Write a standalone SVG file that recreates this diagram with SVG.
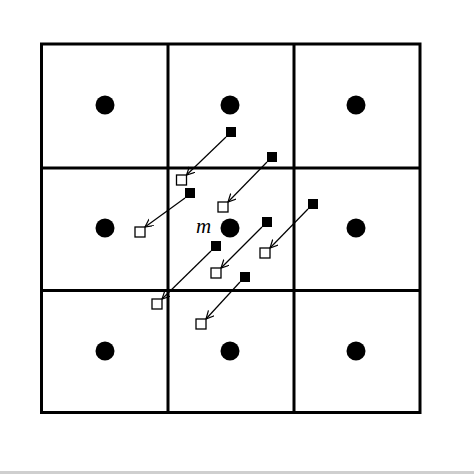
<svg xmlns="http://www.w3.org/2000/svg" width="474" height="474" viewBox="0 0 474 474">
<style>
.grid{fill:none;stroke:#000;stroke-width:3}
.dot{fill:#000}
.fs{fill:#000}
.os{fill:#fff;stroke:#000;stroke-width:1.3}
.arr{stroke:#000;stroke-width:1.2;fill:none;marker-end:url(#ah)}
.lbl{font-family:"Liberation Serif",serif;font-style:italic;font-size:21px;fill:#000}
</style>
<defs>
<marker id="ah" markerUnits="userSpaceOnUse" markerWidth="10" markerHeight="10" refX="8" refY="4" orient="auto">
<path d="M0,0 L8,4 L0,8" fill="none" stroke="#000" stroke-width="1.2"/>
</marker>
</defs>
<rect x="0" y="0" width="474" height="474" fill="#fff"/>
<rect x="0" y="471" width="474" height="3" fill="#cfcfcf"/>
<g id="grid">
<rect class="grid" x="41.5" y="44" width="378.5" height="368.5"/>
<line class="grid" x1="168" y1="44" x2="168" y2="412.5"/>
<line class="grid" x1="294" y1="44" x2="294" y2="412.5"/>
<line class="grid" x1="41.5" y1="168" x2="420" y2="168"/>
<line class="grid" x1="41.5" y1="290.5" x2="420" y2="290.5"/>
</g>
<g id="centers">
<circle class="dot" cx="105" cy="105" r="9.5"/>
<circle class="dot" cx="230" cy="105" r="9.5"/>
<circle class="dot" cx="356" cy="105" r="9.5"/>
<circle class="dot" cx="105" cy="228" r="9.5"/>
<circle class="dot" cx="230" cy="228" r="9.5"/>
<circle class="dot" cx="356" cy="228" r="9.5"/>
<circle class="dot" cx="105" cy="351" r="9.5"/>
<circle class="dot" cx="230" cy="351" r="9.5"/>
<circle class="dot" cx="356" cy="351" r="9.5"/>
</g>
<text class="lbl" x="196" y="233">m</text>
<g id="connectors">
<line class="arr" x1="226" y1="137" x2="186.5" y2="175"/>
<line class="arr" x1="267" y1="162" x2="228" y2="202"/>
<line class="arr" x1="185" y1="198" x2="145" y2="227"/>
<line class="arr" x1="308" y1="209" x2="270" y2="248"/>
<line class="arr" x1="262" y1="227" x2="221" y2="268"/>
<line class="arr" x1="211" y1="251" x2="162" y2="299"/>
<line class="arr" x1="240" y1="282" x2="206" y2="319"/>
</g>
<g id="filled">
<rect class="fs" x="226" y="127" width="10" height="10"/>
<rect class="fs" x="267" y="152" width="10" height="10"/>
<rect class="fs" x="185" y="188" width="10" height="10"/>
<rect class="fs" x="308" y="199" width="10" height="10"/>
<rect class="fs" x="262" y="217" width="10" height="10"/>
<rect class="fs" x="211" y="241" width="10" height="10"/>
<rect class="fs" x="240" y="272" width="10" height="10"/>
</g>
<g id="open">
<rect class="os" x="176.5" y="175" width="10" height="10"/>
<rect class="os" x="218" y="202" width="10" height="10"/>
<rect class="os" x="135" y="227" width="10" height="10"/>
<rect class="os" x="260" y="248" width="10" height="10"/>
<rect class="os" x="211" y="268" width="10" height="10"/>
<rect class="os" x="152" y="299" width="10" height="10"/>
<rect class="os" x="196" y="319" width="10" height="10"/>
</g>
</svg>
